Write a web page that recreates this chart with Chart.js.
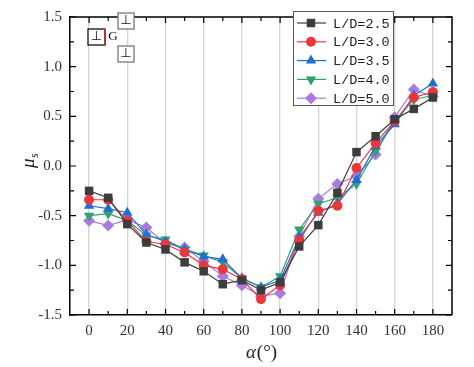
<!DOCTYPE html>
<html>
<head>
<meta charset="utf-8">
<script src="https://cdn.jsdelivr.net/npm/chart.js@4/dist/chart.umd.min.js"></script>
<style>
  html, body { margin: 0; padding: 0; background: #fff; }
  #wrap { width: 474px; height: 367px; }
</style>
</head>
<body>
<div id="wrap"><canvas id="c" width="474" height="367"></canvas></div>
<script>
// angle of attack (deg)
var angles = [0, 10, 20, 30, 40, 50, 60, 70, 80, 90, 100, 110, 120, 130, 140, 150, 160, 170, 180];
var seriesNames = ["L/D=2.5", "L/D=3.0", "L/D=3.5", "L/D=4.0", "L/D=5.0"];
var ld25 = [-0.25, -0.32, -0.585, -0.77, -0.84, -0.97, -1.06, -1.19, -1.15, -1.25, -1.17, -0.81, -0.595, -0.27, 0.14, 0.30, 0.47, 0.575, 0.69];
var ld30 = [-0.34, -0.34, -0.55, -0.76, -0.79, -0.87, -1.00, -1.04, -1.14, -1.34, -1.20, -0.75, -0.45, -0.40, -0.02, 0.23, 0.45, 0.69, 0.745];
var ld35 = [-0.40, -0.43, -0.47, -0.69, -0.76, -0.84, -0.91, -0.94, -1.13, -1.22, -1.15, -0.72, -0.47, -0.38, -0.14, 0.20, 0.42, 0.71, 0.83];
var ld40 = [-0.50, -0.48, -0.55, -0.70, -0.74, -0.84, -0.90, -0.97, -1.13, -1.22, -1.11, -0.64, -0.38, -0.32, -0.18, 0.15, 0.45, 0.67, 0.71];
var ld50 = [-0.55, -0.60, -0.54, -0.62, -0.78, -0.82, -0.96, -1.11, -1.20, -1.31, -1.28, -0.71, -0.33, -0.18, -0.10, 0.115, 0.49, 0.77, 0.70];
var xTicks = [0, 20, 40, 60, 80, 100, 120, 140, 160, 180];
var yTicks = [-1.5, -1.0, -0.5, 0.0, 0.5, 1.0, 1.5];

var colors = ["#3d3d3d", "#e8383d", "#1f6ed4", "#2fa36b", "#a97bdc"];
var styles = ["rect", "circle", "triangle", "triangle", "rectRot"];
var rotations = [0, 0, 0, 180, 0];
var radii = [6, 5, 6, 6, 6];

function pts(vals) {
    return vals.map(function(v, i) { return {x: angles[i], y: v}; });
}

var allVals = [ld25, ld30, ld35, ld40, ld50];
var datasets = allVals.map(function(vals, i) {
    return {
        label: seriesNames[i],
        data: pts(vals),
        borderColor: colors[i],
        backgroundColor: colors[i],
        borderWidth: 1.2,
        pointStyle: styles[i],
        pointRotation: rotations[i],
        pointRadius: radii[i],
        pointBorderWidth: 0,
        pointBackgroundColor: colors[i],
        tension: 0
    };
});

var decoPlugin = {
    id: "deco",
    afterDraw: function(chart) {
        var ctx = chart.ctx;
        var a = chart.chartArea;
        var xs = chart.scales.x, ys = chart.scales.y;
        ctx.save();

        // frame top + right
        ctx.strokeStyle = "#000";
        ctx.lineWidth = 1.5;
        ctx.beginPath();
        ctx.moveTo(a.left, a.top);
        ctx.lineTo(a.right, a.top);
        ctx.lineTo(a.right, a.bottom);
        ctx.stroke();

        // inward ticks
        ctx.lineWidth = 1.2;
        ctx.beginPath();
        for (var v = 0; v <= 180; v += 10) {
            var px = xs.getPixelForValue(v);
            var len = (v % 20 === 0) ? 6 : 4;
            ctx.moveTo(px, a.bottom); ctx.lineTo(px, a.bottom - len);
            ctx.moveTo(px, a.top); ctx.lineTo(px, a.top + len);
        }
        for (var k = -6; k <= 6; k++) {
            var yv = k * 0.25;
            var py = ys.getPixelForValue(yv);
            var l2 = (k % 2 === 0) ? 6 : 4;
            ctx.moveTo(a.left, py); ctx.lineTo(a.left + l2, py);
            ctx.moveTo(a.right, py); ctx.lineTo(a.right - l2, py);
        }
        ctx.stroke();

        // axis titles
        ctx.fillStyle = "#222";
        ctx.textBaseline = "alphabetic";
        ctx.save();
        ctx.translate(34, 162);
        ctx.rotate(-Math.PI / 2);
        ctx.font = "italic 19px 'Liberation Serif'";
        ctx.textAlign = "left";
        ctx.fillText("\u03bc", -6, 0);
        ctx.font = "italic 12px 'Liberation Serif'";
        ctx.fillText("s", 4, 4);
        ctx.restore();

        ctx.font = "italic 19px 'Liberation Serif'";
        ctx.textAlign = "left";
        var t1 = "\u03b1";
        ctx.font = "19px 'Liberation Serif'";
        var w2 = ctx.measureText("(\u00b0)").width;
        ctx.font = "italic 19px 'Liberation Serif'";
        var w1 = ctx.measureText(t1).width;
        var cx = (a.left + a.right) / 2 - (w1 + w2) / 2;
        ctx.fillText(t1, cx, 358);
        ctx.font = "19px 'Liberation Serif'";
        ctx.fillText("(\u00b0)", cx + w1 + 1, 358);

        // legend
        var lx = 293, ly = 11, lw = 100, lh = 94;
        ctx.fillStyle = "#fff";
        ctx.fillRect(lx, ly, lw, lh);
        ctx.strokeStyle = "#555";
        ctx.lineWidth = 1;
        ctx.strokeRect(lx + 0.5, ly + 0.5, lw, lh);
        chart.data.datasets.forEach(function(ds, i) {
            var ry = ly + 12 + i * 18.8;
            ctx.strokeStyle = ds.borderColor;
            ctx.lineWidth = 1.2;
            ctx.beginPath();
            ctx.moveTo(lx + 4, ry);
            ctx.lineTo(lx + 33, ry);
            ctx.stroke();
            ctx.fillStyle = ds.borderColor;
            Chart.helpers.drawPoint(ctx, {
                pointStyle: ds.pointStyle,
                rotation: ds.pointRotation,
                radius: ds.pointRadius,
                borderWidth: 0
            }, lx + 18, ry);
            ctx.fillStyle = "#222";
            ctx.font = "13.5px 'Liberation Mono'";
            ctx.textAlign = "left";
            ctx.textBaseline = "middle";
            ctx.fillText(ds.label, lx + 40, ry + 1);
        });

        // stray glyph boxes in the top-left corner
        ctx.textAlign = "center";
        ctx.textBaseline = "middle";
        ctx.font = "13px 'DejaVu Sans'";
        ctx.lineWidth = 1.3;
        ctx.fillStyle = "#fff";
        ctx.fillRect(88, 29, 17, 16);
        ctx.strokeStyle = "#111";
        ctx.strokeRect(88, 29, 17, 16);
        ctx.strokeStyle = "#e02020";
        ctx.beginPath(); ctx.moveTo(105, 29); ctx.lineTo(105, 45); ctx.stroke();
        ctx.fillStyle = "#111";
        ctx.fillText("\u22a5", 96.5, 37);
        ctx.font = "13px 'Liberation Serif'";
        ctx.fillText("G", 113, 37);
        ctx.font = "13px 'DejaVu Sans'";
        [[118, 13], [118, 46]].forEach(function(b) {
            ctx.fillStyle = "#fff";
            ctx.fillRect(b[0], b[1], 16, 16);
            ctx.strokeStyle = "#777";
            ctx.strokeRect(b[0], b[1], 16, 16);
            ctx.fillStyle = "#111";
            ctx.fillText("\u22a5", b[0] + 8, b[1] + 8);
        });

        ctx.restore();
    }
};

new Chart(document.getElementById("c"), {
    type: "line",
    data: { datasets: datasets },
    options: {
        responsive: false,
        animation: false,
        layout: { padding: { left: 0, right: 22, top: 8, bottom: 0 } },
        plugins: {
            legend: { display: false },
            tooltip: { enabled: false }
        },
        scales: {
            x: {
                type: "linear",
                min: -10,
                max: 190,
                afterBuildTicks: function(scale) {
                    scale.ticks = xTicks.map(function(v) { return {value: v}; });
                },
                afterFit: function(scale) { scale.height = 52; },
                grid: { color: "#d4d4d4", lineWidth: 1.3, drawTicks: false },
                border: { display: true, color: "#000", width: 1.5 },
                ticks: {
                    padding: 7,
                    color: "#333",
                    font: { family: "'Liberation Serif'", size: 15 },
                    maxRotation: 0
                }
            },
            y: {
                min: -1.5,
                max: 1.5,
                afterBuildTicks: function(scale) {
                    scale.ticks = yTicks.map(function(v) { return {value: v}; });
                },
                afterFit: function(scale) { scale.width = 70; },
                grid: { display: false, drawTicks: false },
                border: { display: true, color: "#000", width: 1.5 },
                ticks: {
                    padding: 8,
                    color: "#333",
                    font: { family: "'Liberation Serif'", size: 15 },
                    callback: function(v) { return Number(v).toFixed(1); }
                }
            }
        }
    },
    plugins: [decoPlugin]
});
</script>
</body>
</html>
